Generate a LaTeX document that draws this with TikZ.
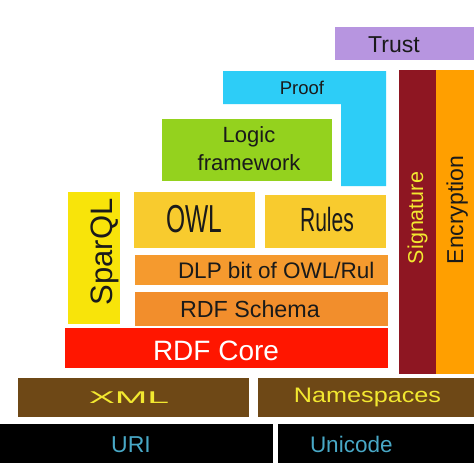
\documentclass[tikz,border=0pt]{standalone}
\usepackage{fontspec}
\setmainfont{Liberation Sans}
\definecolor{ctrust}{HTML}{B795E0}
\definecolor{cproof}{HTML}{2DCDF7}
\definecolor{clogic}{HTML}{94D21E}
\definecolor{csparql}{HTML}{F8E40A}
\definecolor{cowl}{HTML}{F8CB2E}
\definecolor{cdlp}{HTML}{F59A2E}
\definecolor{cschema}{HTML}{F28E2C}
\definecolor{ccore}{HTML}{FF1600}
\definecolor{cxml}{HTML}{6E4816}
\definecolor{csig}{HTML}{8E1622}
\definecolor{cenc}{HTML}{FF9F00}
\definecolor{tyellow}{HTML}{F2E830}
\definecolor{tcyan}{HTML}{48A8C6}
\definecolor{tdark}{HTML}{1A1A1A}
\tikzset{
  lbl/.style={inner sep=0pt, outer sep=0pt, text=tdark},
}
\newcommand{\fs}[1]{\fontsize{#1}{#1}\selectfont}
\begin{document}
\begin{tikzpicture}[x=1pt,y=-1pt]
\useasboundingbox (0,0) rectangle (474,474);
\fill[white] (0,0) rectangle (474,474);
% boxes
\fill[ctrust] (335,27) rectangle (474,60);
\fill[cproof] (223,71) -- (386,71) -- (386,186) -- (341,186) -- (341,104) -- (223,104) -- cycle;
\fill[csig] (399,70) rectangle (436,374);
\fill[cenc] (436,70) rectangle (474,374);
\fill[clogic] (162,119) rectangle (332,181);
\fill[csparql] (68,192) rectangle (120,324);
\fill[cowl] (134,192) rectangle (255,248);
\fill[cowl] (265,195) rectangle (386,248);
\fill[cdlp] (135,255) rectangle (388,285);
\fill[cschema] (135,292) rectangle (388,326);
\fill[ccore] (65,328) rectangle (388,368);
\fill[cxml] (18,378) rectangle (249,417);
\fill[cxml] (258,378) rectangle (474,417);
\fill[black] (0,424) rectangle (273,463);
\fill[black] (278,424) rectangle (474,463);
% labels
\node[lbl, anchor=base] (trust) at (394,52) {\fs{23}Trust};
\node[lbl, anchor=base] (proof) at (302,94) {\fs{18.5}Proof};
\node[lbl, anchor=base] (logic1) at (249,142) {\fs{22}Logic};
\node[lbl, anchor=base] (logic2) at (249,170) {\fs{22}framework};
\node[lbl, anchor=base, rotate=90] (sparql) at (112,252) {\fs{31}SparQL};
\node[lbl, anchor=base] (owl) at (194,232) {\scalebox{0.63}[1]{\fs{39}OWL}};
\node[lbl, anchor=base] (rules) at (327,231) {\scalebox{0.63}[1]{\fs{33.5}Rules}};
\node[lbl, anchor=base west] (dlp) at (178,278) {\fs{22.5}DLP bit of OWL/Rul};
\node[lbl, anchor=base west] (schema) at (180,317) {\fs{23.3}RDF Schema};
\node[lbl, anchor=base west, text=white] (core) at (153,360) {\fs{28}RDF Core};
\node[lbl, anchor=base, text=tyellow] (xml) at (129,403) {\scalebox{2.3}[1]{\fs{17}XML}};
\node[lbl, anchor=base, text=tyellow] (ns) at (367.5,402) {\scalebox{1.2}[1]{\fs{21}Namespaces}};
\node[lbl, anchor=base, text=tcyan] (uri) at (131,452) {\fs{23}URI};
\node[lbl, anchor=base west, text=tcyan] (uni) at (310,452) {\fs{22.5}Unicode};
\node[lbl, anchor=base, rotate=90, text=tyellow] (sig) at (423,218) {\fs{21.5}Signature};
\node[lbl, anchor=base, rotate=90] (enc) at (463,210) {\fs{23}Encryption};
\end{tikzpicture}
\end{document}
